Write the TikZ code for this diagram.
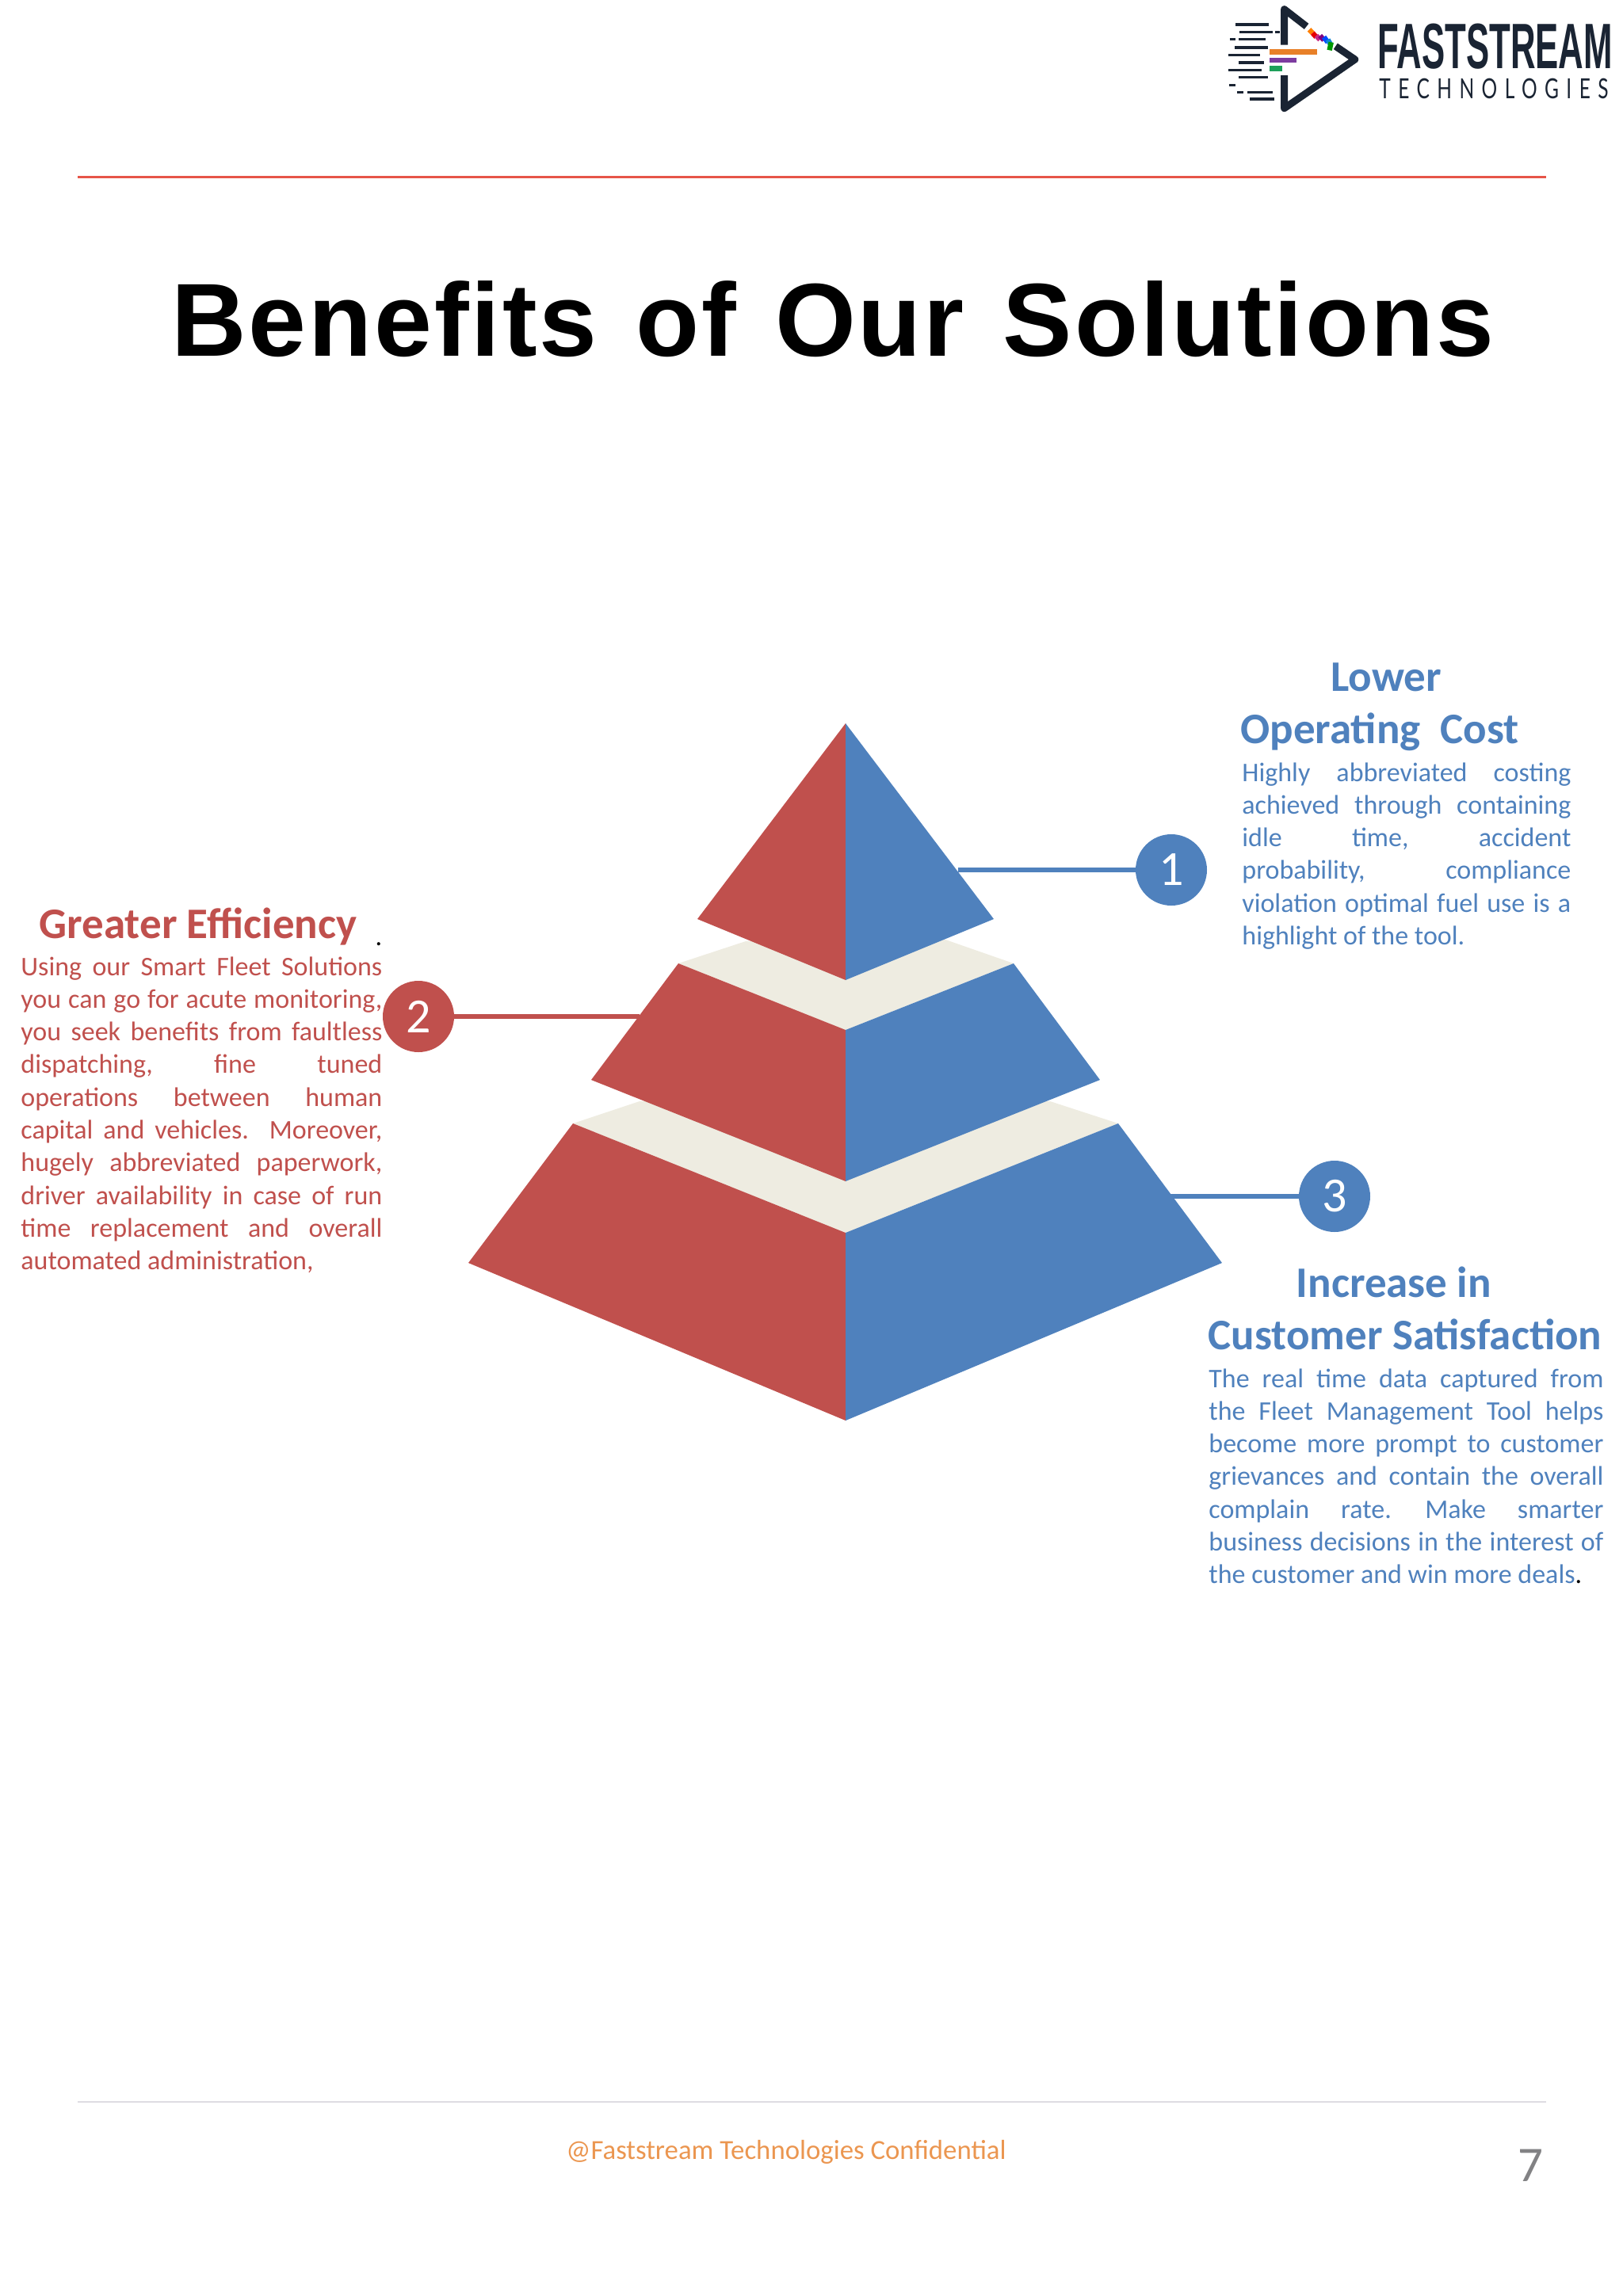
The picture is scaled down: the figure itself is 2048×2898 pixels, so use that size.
\documentclass[tikz,border=0pt]{standalone}
\usepackage{fontspec}
\setmainfont{Carlito}
\newfontfamily\titlefont[LetterSpace=2.2,WordSpace=1.25]{Liberation Sans}
\newfontfamily\logofont[FakeStretch=0.54]{Liberation Sans}
\newfontfamily\logothinfont[FakeStretch=0.7,LetterSpace=27]{Lato}
\usetikzlibrary{arrows.meta}
\definecolor{sidered}{HTML}{C0504D}
\definecolor{sideblue}{HTML}{4F81BD}
\definecolor{bandbeige}{HTML}{EEECE1}
\definecolor{logonavy}{HTML}{1A2433}
\newcommand{\fullline}[1]{\hbox to \hsize{#1}}
\tikzset{
	bodytext/.style={anchor=base west, inner sep=0pt, align=justify, font=\fontsize{17}{20.65}\selectfont},
	headtext/.style={anchor=base, inner sep=0pt, align=center, font=\fontsize{27.5}{33}\selectfont\bfseries},
	badge/.style={circle, minimum size=45pt, inner sep=0pt, text=white, font=\fontsize{31}{31}\selectfont},
}
\begin{document}
\begin{tikzpicture}[x=0.5pt, y=-0.5pt]
	\useasboundingbox (0,0) rectangle (2048,2898);
	% header
	\draw[color={rgb,255:red,230;green,85;blue,72}, line width=1.3pt] (98,223.5) -- (1951,223.5);
	\node[inner sep=0pt, anchor=base west, font=\titlefont\bfseries\fontsize{65.5}{70}\selectfont] (title) at (216,449) {Benefits of Our Solutions};
	% logo
	\begin{scope}[shift={(1500,0)}, x=0.1748pt, y=-0.1667pt, logonavy]
		\draw[line width=4.5pt, line join=round] (345,170) -- (345,35) -- (425,100);
		\draw[line width=4.5pt, line join=round] (530,175) -- (600,225) -- (345,410) -- (345,285);
		\foreach \xa/\xb/\yy in {170/288/93, 183/302/121, 313/330/121, 148/170/149, 180/277/149, 167/287/180, 143/258/209, 180/272/237, 143/264/265, 180/287/293, 147/170/323, 175/198/349, 212/302/349, 220/310/375}
			\draw[line width=1.6pt] (\xa,\yy) -- (\xb,\yy);
		\fill[color={rgb,255:red,232;green,128;blue,40}] (293,187) rectangle (463,207);
		\fill[color={rgb,255:red,125;green,60;blue,160}] (293,218) rectangle (390,238);
		\fill[color={rgb,255:red,30;green,160;blue,90}] (293,250) rectangle (338,270);
		\foreach \xa/\ya/\xb/\yb/\tone in {435/112/447/125/orange, 447/125/460/140/red!90!black, 460/135/474/150/magenta!80!black, 474/135/488/152/violet, 488/140/502/160/blue!70!cyan, 502/150/514/172/cyan!70!blue, 514/160/508/190/green!60!black}
			\draw[\tone, line width=3.2pt] (\xa,\ya) -- (\xb,\yb);
	\end{scope}
	\node[inner sep=0pt, anchor=base west, text=logonavy, font=\logofont\bfseries\fontsize{40.5}{40}\selectfont] (logotop) at (1738,86) {FASTSTREAM};
	\node[inner sep=0pt, anchor=base west, text=logonavy, font=\logothinfont\fontsize{17.5}{18}\selectfont] (logobottom) at (1740,124) {TECHNOLOGIES};
	% pyramid
	\fill[bandbeige] (856,1216) -- (941,1188) -- (1193,1186) -- (1279,1216) -- (1067,1300) -- cycle;
	\fill[bandbeige] (723,1418) -- (807,1390) -- (1325,1390) -- (1411,1418) -- (1067,1556) -- cycle;
	\fill[sidered] (1067,913) -- (880,1160) -- (1067,1237) -- cycle;
	\fill[sideblue] (1067,913) -- (1254,1160) -- (1067,1237) -- cycle;
	\fill[sidered] (856,1216) -- (746,1363) -- (1067,1491) -- (1067,1300) -- cycle;
	\fill[sideblue] (1279,1216) -- (1388,1363) -- (1067,1491) -- (1067,1300) -- cycle;
	\fill[sidered] (723,1418) -- (591,1594) -- (1067,1793) -- (1067,1556) -- cycle;
	\fill[sideblue] (1411,1418) -- (1542,1594) -- (1067,1793) -- (1067,1556) -- cycle;
	% callouts
	\coordinate (edgeone) at (1209,1098);
	\coordinate (edgetwo) at (807,1283);
	\coordinate (edgethree) at (1477,1510);
	\node[badge, fill=sideblue] (one) at (1478,1098) {1};
	\node[badge, fill=sidered] (two) at (528,1283) {2};
	\node[badge, fill=sideblue] (three) at (1684,1510) {3};
	\draw[sideblue, line width=2.8pt] (edgeone) -- (one);
	\draw[sidered, line width=2.8pt] (edgetwo) -- (two);
	\draw[sideblue, line width=2.8pt] (edgethree) -- (three);
	% texts
	\node[headtext, text=sideblue] (headone) at (1741,938) {\hspace*{8pt}Lower\\Operating\ \ Cost};
	\node[bodytext, text=sideblue, text width=207.5pt] (bodyone) at (1567,986) {%
		\fullline{Highly abbreviated costing}
		\fullline{achieved through containing}
		\fullline{idle \hfil time, \hfil accident}
		\fullline{probability, \hfil compliance}
		\fullline{violation optimal fuel use is a}
		highlight of the tool.};
	\node[headtext, text=sidered] (headtwo) at (250,1184) {Greater Efficiency};
	\node[inner sep=0pt, anchor=base, font=\fontsize{17}{20}\selectfont] (dottwo) at (478,1193) {.};
	\node[bodytext, text=sidered, text width=228pt] (bodytwo) at (26,1231) {%
		\fullline{Using our Smart Fleet Solutions}
		\fullline{you can go for acute monitoring,}
		\fullline{you seek benefits from faultless}
		\fullline{dispatching, \hfil fine \hfil tuned}
		\fullline{operations \hfil between \hfil human}
		\fullline{capital and vehicles. Moreover,}
		\fullline{hugely abbreviated paperwork,}
		\fullline{driver availability in case of run}
		\fullline{time replacement and overall}
		automated administration,};
	\node[headtext, text=sideblue] (headthree) at (1773,1703) {\hspace*{-14pt}Increase in\\Customer Satisfaction};
	\node[bodytext, text=sideblue, text width=249pt] (bodythree) at (1525,1751) {%
		\fullline{The real time data captured from}
		\fullline{the Fleet Management Tool helps}
		\fullline{become more prompt to customer}
		\fullline{grievances and contain the overall}
		\fullline{complain \hfil rate. \hfil Make \hfil smarter}
		\fullline{business decisions in the interest of}
		the customer and win more deals\textcolor{black}{.}};
	% footer
	\draw[color={rgb,255:red,222;green,220;blue,226}, line width=1.2pt] (98,2653) -- (1951,2653);
	\node[inner sep=0pt, anchor=base west, text={rgb,255:red,235;green,150;blue,80}, font=\fontsize{17.4}{20}\selectfont] (footer) at (714,2725) {@Faststream Technologies Confidential};
	\node[inner sep=0pt, anchor=base, text={rgb,255:red,130;green,130;blue,132}, font=\fontsize{31.5}{32}\selectfont] (pagenum) at (1931,2753) {7};
\end{tikzpicture}
\end{document}
